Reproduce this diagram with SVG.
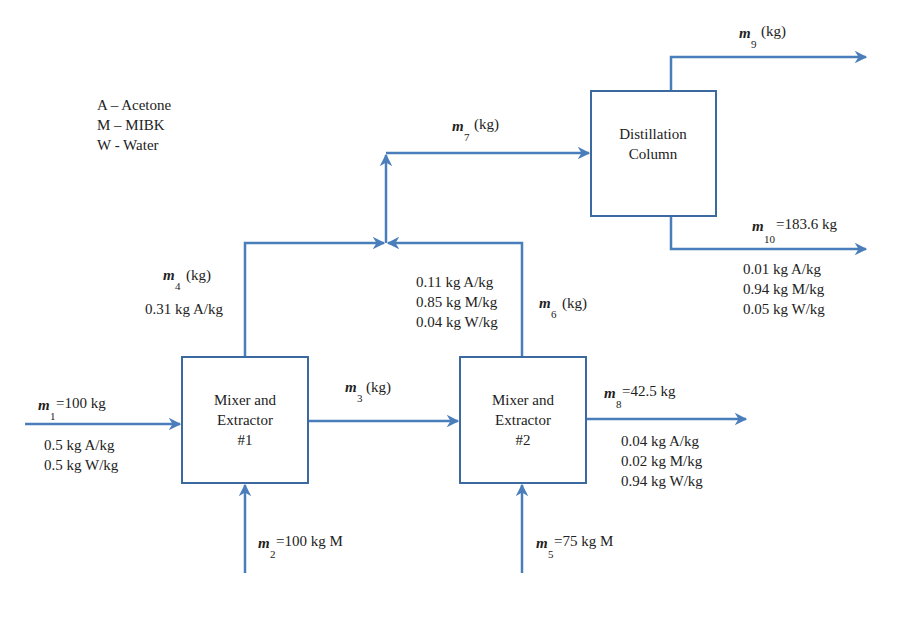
<svg xmlns="http://www.w3.org/2000/svg" width="901" height="620" viewBox="0 0 901 620">
<style>
text{font-family:"Liberation Serif",serif;font-size:15px;fill:#222}
.m{font-weight:bold;font-style:italic}
.s{font-size:11px}
.c{text-anchor:middle}
.box{fill:#fff;stroke:#3c6aa0;stroke-width:2}
.ln{fill:none;stroke:#4a7ebb;stroke-width:2.5}
</style>
<defs><marker id="a" viewBox="0 0 10 10" refX="9" refY="5" markerWidth="5" markerHeight="5" orient="auto"><path d="M0,0 L10,5 L0,10 L3,5 Z" fill="#4a7ebb"/></marker></defs>
<rect width="901" height="620" fill="#fff"/>
<g id="connectors">
<path class="ln" d="M25,424 H180" marker-end="url(#a)"/>
<path class="ln" d="M308,421 H458" marker-end="url(#a)"/>
<path class="ln" d="M586,419 H746" marker-end="url(#a)"/>
<path class="ln" d="M245,573 V485" marker-end="url(#a)"/>
<path class="ln" d="M522,573 V485" marker-end="url(#a)"/>
<path class="ln" d="M245,357 V243 H384" marker-end="url(#a)"/>
<path class="ln" d="M522,357 V243 H388" marker-end="url(#a)"/>
<path class="ln" d="M386,243 V155" marker-end="url(#a)"/>
<path class="ln" d="M386,153 H589" marker-end="url(#a)"/>
<path class="ln" d="M671,91 V57 H866" marker-end="url(#a)"/>
<path class="ln" d="M671,216 V249 H866" marker-end="url(#a)"/>
</g>
<g id="mixer1"><rect class="box" x="182" y="357" width="126" height="126"/><text class="c" x="245" y="405">Mixer and</text><text class="c" x="245" y="425">Extractor</text><text class="c" x="245" y="445">#1</text></g>
<g id="mixer2"><rect class="box" x="460" y="357" width="126" height="126"/><text class="c" x="523" y="405">Mixer and</text><text class="c" x="523" y="425">Extractor</text><text class="c" x="523" y="445">#2</text></g>
<g id="column"><rect class="box" x="591" y="91" width="125" height="125"/><text class="c" x="653" y="139">Distillation</text><text class="c" x="653" y="159">Column</text></g>
<g id="labels">
<text x="97" y="110">A – Acetone</text><text x="97" y="130">M – MIBK</text><text x="97" y="150">W - Water</text>
<text x="38" y="410"><tspan class="m">m</tspan></text><text class="s" x="50" y="420">1</text><text x="56" y="408">=100 kg</text>
<text x="44" y="450">0.5 kg A/kg</text><text x="44" y="470">0.5 kg W/kg</text>
<text x="258" y="548"><tspan class="m">m</tspan></text><text class="s" x="270" y="558">2</text><text x="276" y="546">=100 kg M</text>
<text x="536" y="548"><tspan class="m">m</tspan></text><text class="s" x="548" y="558">5</text><text x="554" y="546">=75 kg M</text>
<text x="345" y="392"><tspan class="m">m</tspan></text><text class="s" x="357" y="402">3</text><text x="366" y="392">(kg)</text>
<text x="163" y="280"><tspan class="m">m</tspan></text><text class="s" x="175" y="290">4</text><text x="186" y="280">(kg)</text>
<text x="145" y="314">0.31 kg A/kg</text>
<text x="416" y="287">0.11 kg A/kg</text><text x="416" y="307">0.85 kg M/kg</text><text x="416" y="327">0.04 kg W/kg</text>
<text x="539" y="308"><tspan class="m">m</tspan></text><text class="s" x="551" y="318">6</text><text x="562" y="308">(kg)</text>
<text x="452" y="131"><tspan class="m">m</tspan></text><text class="s" x="464" y="141">7</text><text x="474" y="129">(kg)</text>
<text x="604" y="398"><tspan class="m">m</tspan></text><text class="s" x="616" y="408">8</text><text x="622" y="396">=42.5 kg</text>
<text x="621" y="446">0.04 kg A/kg</text><text x="621" y="466">0.02 kg M/kg</text><text x="621" y="486">0.94 kg W/kg</text>
<text x="739" y="38"><tspan class="m">m</tspan></text><text class="s" x="751" y="48">9</text><text x="761" y="36">(kg)</text>
<text x="752" y="231"><tspan class="m">m</tspan></text><text class="s" x="764" y="243">10</text><text x="776" y="229">=183.6 kg</text>
<text x="743" y="274">0.01 kg A/kg</text><text x="743" y="294">0.94 kg M/kg</text><text x="743" y="314">0.05 kg W/kg</text>
</g>
</svg>
